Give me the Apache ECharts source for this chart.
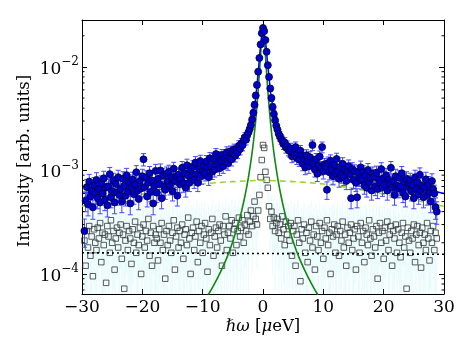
<!DOCTYPE html>
<html><head><meta charset="utf-8">
<script src="https://cdn.jsdelivr.net/npm/echarts@6/dist/echarts.min.js"></script>
<style>html,body{margin:0;padding:0;background:#fff}#c{width:474px;height:356px}</style>
</head><body><div id="c"></div>
<script>
// values in units of 1e-4 (arb. units)
const UNIT = 1e-4;
// energy grid of the measured points (μeV)
const xStart = -29.6, xStep = 0.2;
// sample intensity (blue filled circles)
const intensity = [
2.6,5.1,6.9,4.7,7.8,5.6,6.4,4.4,7.2,5.9,
8.1,5.4,6.6,4.9,7.5,6.0,8.4,5.2,6.9,4.6,
7.0,9.2,5.5,6.3,8.0,4.9,7.4,6.1,8.6,5.8,
6.6,5.0,8.3,7.1,5.7,9.0,6.2,7.7,4.8,6.9,
8.2,5.9,7.3,9.6,6.4,5.3,7.9,6.7,8.8,12.8,
6.9,8.5,5.6,7.6,9.4,6.2,8.0,4.8,7.1,9.9,
6.1,8.3,7.4,10.0,5.4,8.9,7.0,6.5,9.3,7.8,
9.7,7.1,8.6,6.3,10.4,7.9,8.8,5.7,9.1,7.4,
8.2,10.6,7.5,9.4,6.8,11.2,8.9,7.6,10.1,9.0,
10.8,8.1,11.9,9.2,7.6,10.4,12.3,8.8,9.9,11.1,
9.4,12.2,10.8,8.6,13.1,11.0,9.7,12.8,10.2,14.4,
11.3,13.4,10.5,12.6,14.1,11.0,13.0,12.1,15.0,11.7,
13.2,15.3,12.8,14.6,16.0,13.9,15.6,14.9,17.3,16.1,
18.2,17.5,19.6,20.9,19.8,22.1,23.4,25.2,27.5,31.0,
36,43,53,67,90,122,165,212,238,222,
182,140,104,80,62,50,41,35,30.5,27.0,
24.8,22.6,21.4,20.1,19.3,18.0,18.6,16.7,17.2,15.8,
15.4,16.3,13.7,15.0,14.1,16.8,13.2,14.6,12.7,15.5,
13.8,11.6,12.9,10.7,14.0,12.2,11.0,13.4,12.0,17.6,
11.7,10.2,12.8,9.3,11.1,13.6,10.6,16.8,9.8,11.4,
10.9,6.5,11.8,9.6,12.4,10.1,8.8,11.3,9.4,12.9,
9.9,8.3,10.8,9.0,11.6,8.6,10.2,7.9,9.7,11.0,
9.2,5.4,10.3,8.1,9.8,7.6,5.5,9.5,8.4,10.7,
8.0,9.6,7.2,8.9,6.8,10.1,7.7,8.5,6.4,9.3,
8.7,7.0,9.5,6.6,8.2,7.6,10.3,6.9,8.4,7.3,
9.0,6.4,8.1,7.4,10.6,6.8,7.9,5.8,8.8,7.1,
6.7,8.5,7.0,9.4,6.1,7.8,5.6,8.3,6.9,7.5,
8.0,6.3,7.2,5.4,8.6,6.6,7.7,5.9,9.1,6.5,
7.1,5.5,6.8,8.2,5.8,7.4,6.2,5.0,7.9,6.6,
6.0,4.4,4.0];
// background measurement (open squares)
const background = [
2.1,1.2,2.6,1.8,2.9,1.5,2.3,0.95,2.7,2.0,
1.7,2.8,2.2,3.1,1.3,2.5,1.9,2.4,0.82,2.9,
2.3,1.6,3.3,2.0,2.6,1.1,2.2,2.8,1.8,2.5,
3.0,1.4,2.4,0.72,2.1,2.9,1.7,2.6,2.2,1.25,
2.7,2.0,3.2,1.6,2.4,1.9,2.8,1.0,2.3,3.0,
1.8,2.6,2.1,3.4,1.5,2.5,1.2,2.9,2.0,2.4,
2.2,1.35,2.7,2.0,3.1,1.7,2.4,0.9,2.6,1.9,
2.9,2.1,1.6,2.5,3.3,1.1,2.3,2.8,1.8,2.6,
2.0,3.0,1.4,2.4,2.7,1.9,3.5,2.2,1.0,2.5,
2.8,1.7,2.3,3.2,1.3,2.6,2.0,2.9,1.6,2.4,
3.1,2.2,1.05,2.7,1.9,2.5,3.4,1.5,2.3,2.8,
1.8,2.6,3.0,2.1,1.2,2.9,2.4,3.6,1.7,2.5,
2.9,2.2,3.3,1.6,2.7,3.1,1.9,2.6,3.5,2.3,
2.8,3.3,2.0,3.0,2.6,3.7,2.4,3.2,4.1,2.9,
3.6,5.0,3.4,3.0,4.1,5.8,8.6,12.6,17.6,16.5,
9.7,8.1,6.8,4.5,3.4,4.0,2.9,3.5,2.6,3.1,
3.4,2.5,3.0,2.2,3.6,2.7,1.9,3.2,2.4,2.9,
2.1,3.1,1.5,2.6,2.9,1.2,2.4,3.3,2.0,0.85,
2.7,2.2,3.0,1.6,2.5,1.3,2.8,2.1,3.2,1.8,
2.4,1.1,2.9,2.3,1.7,3.1,2.0,2.6,1.4,2.8,
2.2,3.3,1.9,2.5,1.0,2.7,2.3,3.0,1.6,2.4,
2.9,1.5,2.6,2.1,3.2,1.8,2.4,1.2,2.8,2.0,
2.5,3.0,1.7,2.2,2.7,1.1,2.9,2.3,1.6,3.1,
2.0,2.6,1.3,2.8,2.4,1.9,3.3,2.2,1.5,2.7,
2.3,1.8,2.9,0.9,2.5,3.1,2.0,2.6,1.4,2.8,
2.1,3.2,1.7,2.4,2.9,1.2,2.6,2.2,3.0,1.6,
2.7,2.0,1.45,2.5,3.1,1.8,2.3,0.72,2.8,2.1,
1.6,2.6,2.2,3.0,1.3,2.4,2.9,1.9,2.5,1.15,
2.8,2.0,2.4,1.7,3.1,2.2,1.35,2.6,2.0,2.9,
1.7,2.5,2.2];
// total fit (blue line)
const fitX = [-30,-25,-20,-15,-10,-8,-6,-5,-4,-3,-2.5,-2,-1.5,-1.25,-1,-0.75,-0.5,-0.25,0,0.25,0.5,0.75,1,1.25,1.5,2,2.5,3,4,5,6,8,10,15,20,25,30];
const fitY = [6.0,6.5,7.1,8.1,9.6,10.6,11.9,13.0,15.0,19.0,22,27,39,48,66,95,140,195,232,205,160,110,80,57,46,30,24,20,16.5,14.5,13.2,11.8,10.8,8.8,7.8,6.9,6.0];
// narrow (elastic) component (green solid)
const narrowX = [-11,-10,-9,-8,-7,-6,-5,-4,-3.5,-3,-2.5,-2,-1.75,-1.5,-1.25,-1,-0.75,-0.5,-0.25,0,0.25,0.5,0.75,1,1.25,1.5,1.75,2,2.5,3,3.5,4,5,6,7,8,9,10,11];
const narrowY = [0.43,0.52,0.64,0.81,1.06,1.43,2.06,3.20,4.16,5.63,8.0,12.3,15.7,20.9,28.8,41.9,64.8,106,172,217,172,106,64.8,41.9,28.8,20.9,15.7,12.3,8.0,5.63,4.16,3.20,2.06,1.43,1.06,0.81,0.64,0.52,0.43];
// broad (quasi-elastic) component (green dashed)
const broadX = [-30,-25,-20,-15,-10,-5,0,5,10,15,20,25,30];
const broadY = [4.5,5.2,5.9,6.7,7.4,7.8,8.0,7.8,7.4,6.7,5.9,5.2,4.5];
// flat background (black dotted)
const bgLineX = [-30,30];
const bgLineY = [1.6,1.55];
// error bar sizes
const blueErrScale = 0.49;   // σ ≈ 0.49·sqrt(I) (units 1e-4)
const cyanErr = 1.9;         // units 1e-4
// axis
const xTicks = [-30,-20,-10,0,10,20,30];
const yMin = 6.4e-5, yMax = 2.84e-2;
const minorTicks = [0.7,0.8,0.9,2,3,4,5,6,7,8,9,20,30,40,50,60,70,80,90,200];

const serif = "'DejaVu Serif',serif";
const pairs = (xs, ys) => xs.map((x, i) => [x, ys[i] * UNIT]);
const gridX = (arr) => arr.map((_, i) => +(xStart + i * xStep).toFixed(2));
const eI = gridX(intensity), eB = gridX(background);

const chart = echarts.init(document.getElementById('c'), null, {renderer: 'canvas'});
const axisLineStyle = {color: '#000', width: 1};
const yLabelFmt = v => {
  const l = Math.log10(v), e = Math.round(l);
  if (Math.abs(l - e) > 1e-6) return '';
  return '{b|10}{s|' + (e < 0 ? '\u2212' : '') + Math.abs(e) + '}';
};
const option = {
  animation: false,
  backgroundColor: '#fff',
  grid: {left: 82, right: 30, top: 20, bottom: 62},
  xAxis: [
    {type: 'value', min: xTicks[0], max: xTicks[xTicks.length-1], interval: 10, position: 'bottom',
     axisLine: {show: true, onZero: false, lineStyle: axisLineStyle},
     axisTick: {show: true, inside: true, length: 5, lineStyle: {color: '#000'}},
     axisLabel: {margin: 5, fontFamily: serif, fontSize: 17, color: '#000',
       formatter: v => String(v).replace('-', '\u2212')},
     splitLine: {show: false}},
    {type: 'value', min: xTicks[0], max: xTicks[xTicks.length-1], interval: 10, position: 'top',
     axisLine: {show: true, onZero: false, lineStyle: axisLineStyle},
     axisTick: {show: true, inside: true, length: 5, lineStyle: {color: '#000'}},
     axisLabel: {show: false}, splitLine: {show: false}}
  ],
  yAxis: [
    {type: 'log', logBase: 10, min: yMin, max: yMax, position: 'left',
     axisLine: {show: true, onZero: false, lineStyle: axisLineStyle},
     axisTick: {show: true, inside: true, length: 5, lineStyle: {color: '#000'}},
     axisLabel: {margin: 3, formatter: yLabelFmt, rich: {
       b: {fontFamily: serif, fontSize: 17, color: '#000', verticalAlign: 'bottom', lineHeight: 22},
       s: {fontFamily: serif, fontSize: 12, color: '#000', verticalAlign: 'top', lineHeight: 14}}},
     splitLine: {show: false}},
    {type: 'log', logBase: 10, min: yMin, max: yMax, position: 'right',
     axisLine: {show: true, onZero: false, lineStyle: axisLineStyle},
     axisTick: {show: true, inside: true, length: 5, lineStyle: {color: '#000'}},
     axisLabel: {show: false}, splitLine: {show: false}}
  ],
  graphic: [
    {type: 'text', x: 25, y: 161, rotation: Math.PI / 2,
     style: {text: 'Intensity [arb. units]', font: '16.5px ' + serif, fill: '#000',
       align: 'center', verticalAlign: 'middle', textAlign: 'center', textVerticalAlign: 'middle'}},
    {type: 'text', x: 263, y: 327,
     style: {text: '{i|\u210F\u03C9} [{i|\u03BC}eV]', font: '16.5px ' + serif, fill: '#000',
       align: 'center', verticalAlign: 'middle', textAlign: 'center', textVerticalAlign: 'middle',
       rich: {i: {fontStyle: 'italic', fontFamily: serif, fontSize: 16.5, fill: '#000'}}}}
  ],
  series: [
    {type: 'custom', name: 'bgErr', z: 1, silent: true,
     data: eB.map((x, i) => [x, background[i] * UNIT, cyanErr * UNIT]),
     renderItem: (params, api) => {
       const x = api.value(0), y = api.value(1), e = api.value(2);
       const hi = Math.min(y + e, yMax), lo = Math.max(y - e, yMin);
       const p1 = api.coord([x, hi]), p2 = api.coord([x, lo]);
       return {type: 'line', shape: {x1: p1[0], y1: p1[1], x2: p2[0], y2: p2[1]},
         style: {stroke: 'rgba(110,228,235,0.16)', lineWidth: 1}};
     }},
    {type: 'scatter', name: 'background', z: 2, symbol: 'rect', symbolSize: 5.5,
     data: eB.map((x, i) => [x, background[i] * UNIT]),
     itemStyle: {color: 'rgba(255,255,255,0)', borderColor: '#333', borderWidth: 1}},
    {type: 'line', name: 'flat', z: 3, showSymbol: false, data: pairs(bgLineX, bgLineY),
     lineStyle: {color: '#000', width: 1.6, type: [2, 3]}},
    {type: 'line', name: 'broad', z: 3, showSymbol: false, smooth: 0.3, data: pairs(broadX, broadY),
     lineStyle: {color: '#9ad62a', width: 1.6, type: [6, 4]}},
    {type: 'line', name: 'narrow', z: 4, showSymbol: false, smooth: 0.3, data: pairs(narrowX, narrowY),
     lineStyle: {color: '#118811', width: 1.6}},
    {type: 'line', name: 'fit', z: 4, showSymbol: false, smooth: 0.3, data: pairs(fitX, fitY),
     lineStyle: {color: '#0000ff', width: 1.5}},
    {type: 'custom', name: 'dataErr', z: 5, silent: true,
     data: eI.map((x, i) => [x, intensity[i] * UNIT, blueErrScale * Math.sqrt(intensity[i]) * UNIT]),
     renderItem: (params, api) => {
       const x = api.value(0), y = api.value(1), e = api.value(2);
       const p1 = api.coord([x, y + e]), p2 = api.coord([x, Math.max(y - e, yMin)]);
       const st = {stroke: '#4646ff', lineWidth: 1};
       return {type: 'group', children: [
         {type: 'line', shape: {x1: p1[0], y1: p1[1], x2: p2[0], y2: p2[1]}, style: st},
         {type: 'line', shape: {x1: p1[0] - 2.5, y1: p1[1], x2: p1[0] + 2.5, y2: p1[1]}, style: st},
         {type: 'line', shape: {x1: p2[0] - 2.5, y1: p2[1], x2: p2[0] + 2.5, y2: p2[1]}, style: st}
       ]};
     }},
    {type: 'scatter', name: 'data', z: 6, symbol: 'circle', symbolSize: 7,
     data: eI.map((x, i) => [x, intensity[i] * UNIT]),
     itemStyle: {color: '#0000c8', borderColor: '#000040', borderWidth: 0.8, opacity: 1}},
    {type: 'custom', name: 'minorTicks', z: 7, silent: true,
     data: minorTicks.map(v => [0, v * UNIT]),
     renderItem: (params, api) => {
       const v = api.value(1);
       const l = api.coord([xTicks[0], v]), r = api.coord([xTicks[xTicks.length-1], v]);
       const st = {stroke: '#000', lineWidth: 1};
       return {type: 'group', children: [
         {type: 'line', shape: {x1: l[0], y1: l[1], x2: l[0] + 2.5, y2: l[1]}, style: st},
         {type: 'line', shape: {x1: r[0] - 2.5, y1: r[1], x2: r[0], y2: r[1]}, style: st}
       ]};
     }}
  ]
};
chart.setOption(option);
</script></body></html>
